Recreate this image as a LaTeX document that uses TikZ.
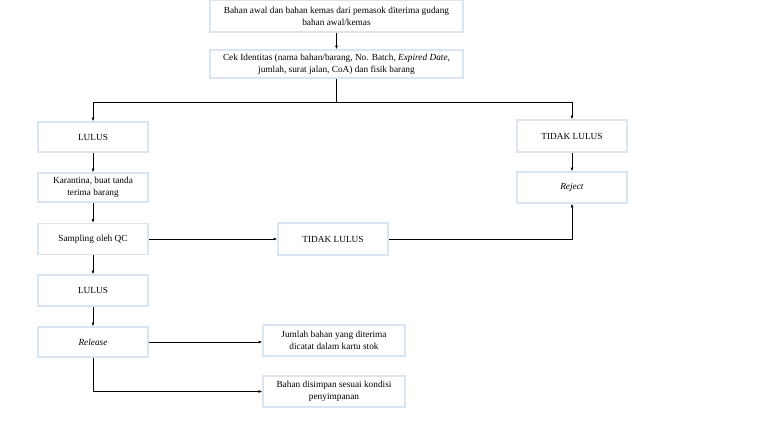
\documentclass[tikz,border=0pt]{standalone}
\usepackage{fontspec}
\setmainfont{Liberation Serif}
\usetikzlibrary{arrows.meta,calc}
\definecolor{boxline}{HTML}{DAE5F2}
\tikzset{
  x=1pt,y=-1pt,
  box/.style={draw=boxline,line width=1.6pt,fill=white,inner sep=0pt,align=center,font=\fontsize{9.3}{12}\selectfont},
  conn/.style={draw=black,line width=0.6pt,-{Latex[length=3.5pt,width=2.8pt]}},
  plain/.style={draw=black,line width=0.6pt}
}
\begin{document}
\begin{tikzpicture}
\useasboundingbox (0,0) rectangle (768,433);
\fill[white] (0,0) rectangle (768,433);
\node[box,minimum width=253pt,minimum height=32pt] (a) at (336.5,16) {Bahan awal dan bahan kemas dari pemasok diterima gudang\\bahan awal/kemas};
\node[box,minimum width=253pt,minimum height=28pt] (b) at (336.5,64) {Cek Identitas (nama bahan/barang, No. Batch, \textit{Expired Date,}\\jumlah, surat jalan, CoA) dan fisik barang};
\node[box,minimum width=110pt,minimum height=30pt] (l1) at (93,137) {LULUS};
\node[box,minimum width=110pt,minimum height=29pt] (k) at (93,187.5) {Karantina, buat tanda\\terima barang};
\node[box,minimum width=110pt,minimum height=31pt] (s) at (93,239) {Sampling oleh QC};
\node[box,minimum width=110pt,minimum height=31pt] (l2) at (93,290.5) {LULUS};
\node[box,minimum width=110pt,minimum height=30pt] (r) at (93,342) {\textit{Release}};
\node[box,minimum width=110pt,minimum height=32pt] (t1) at (572,136) {TIDAK LULUS};
\node[box,minimum width=110pt,minimum height=31pt] (rj) at (572,187.5) {\textit{Reject}};
\node[box,minimum width=110pt,minimum height=32pt] (t2) at (333,239) {TIDAK LULUS};
\node[box,minimum width=142pt,minimum height=31pt] (j) at (334,340.5) {Jumlah bahan yang diterima\\dicatat dalam kartu stok};
\node[box,minimum width=142pt,minimum height=31pt] (bd) at (334,391.5) {Bahan disimpan sesuai kondisi\\penyimpanan};
\coordinate (split) at (336.5,102);
\draw[conn] (a) -- (b);
\draw[plain] (b) -- (split);
\draw[conn] (split) -| (l1.north);
\draw[conn] (split) -| (t1.north);
\draw[conn] (l1) -- (k);
\draw[conn] (k) -- (s);
\draw[conn] (s) -- (l2);
\draw[conn] (l2) -- (r);
\draw[conn] (s) -- (t2);
\draw[conn] (t1) -- (rj);
\draw[conn] (t2.east) -| (rj.south);
\draw[conn] (r.east) -- (r.east -| j.west);
\draw[conn] (r.south) |- (bd.west);
\end{tikzpicture}
\end{document}
